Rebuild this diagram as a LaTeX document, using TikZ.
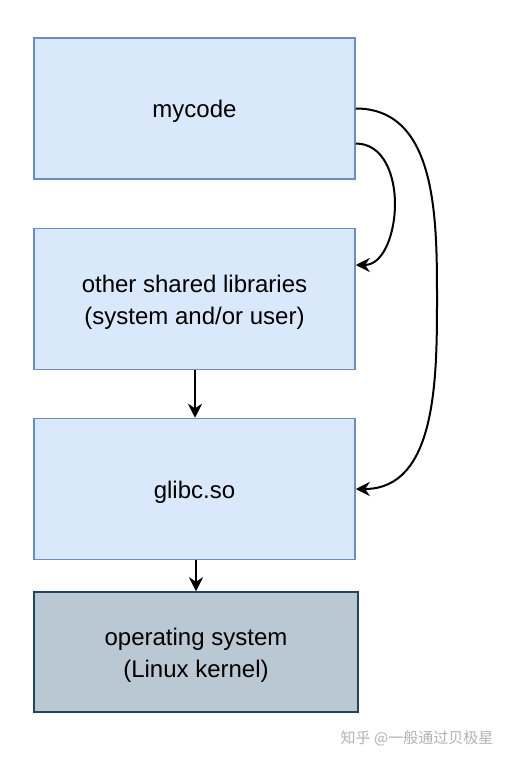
\documentclass[tikz,border=0pt]{standalone}
\usepackage{fontspec}
\setmainfont{Liberation Sans}
\newfontfamily\cjk{Noto Sans CJK SC}
\usetikzlibrary{arrows.meta}
\definecolor{lbfill}{HTML}{DAE8FC}
\definecolor{lbdraw}{HTML}{6C8EBF}
\definecolor{osfill}{HTML}{BAC8D3}
\definecolor{osdraw}{HTML}{23445D}
\begin{document}
\begin{tikzpicture}[x=1pt,y=1pt,
  lbl/.style={yshift=-3pt,align=center,inner sep=0pt,font=\fontsize{24}{32}\selectfont},
  lbox/.style={draw=lbdraw,fill=lbfill,line width=1.5pt,minimum width=321pt,minimum height=141pt,inner sep=0pt},
  osbox/.style={draw=osdraw,fill=osfill,line width=1.5pt,minimum width=324pt,minimum height=120pt,inner sep=0pt},
  conn/.style={line width=2pt,-{Stealth[length=14pt,width=14pt,inset=4.5pt]}}]
\useasboundingbox (0,0) rectangle (508,-760);
\fill[white] (0,0) rectangle (508,-760);
\node[lbox,label={[lbl]center:mycode}] (m) at (194.5,-108.5) {};
\node[lbox,label={[lbl]center:other shared libraries\\(system and/or user)}] (o) at (194.5,-299) {};
\node[lbox,label={[lbl]center:glibc.so}] (g) at (194.5,-489) {};
\node[osbox,label={[lbl]center:operating system\\(Linux kernel)}] (os) at (196,-652) {};
\coordinate (c1) at (395,-204);
\coordinate (c2) at (437,-300);
\draw[conn] ([xshift=0.5pt]o.south) -- ([xshift=0.5pt]g.north);
\draw[conn] (g.south -| os.north) -- (os.north);
\draw[conn] ([yshift=-35pt]m.east) to[out=0,in=90] (c1) to[out=-90,in=0] ([yshift=34pt]o.east);
\draw[conn] (m.east) to[out=0,in=90] (c2) to[out=-90,in=0] (g.east);
\node[text=black!30,font=\cjk\fontsize{15}{15}\selectfont] (wm) at (417,-738) {知乎 @一般通过贝极星};
\end{tikzpicture}
\end{document}
